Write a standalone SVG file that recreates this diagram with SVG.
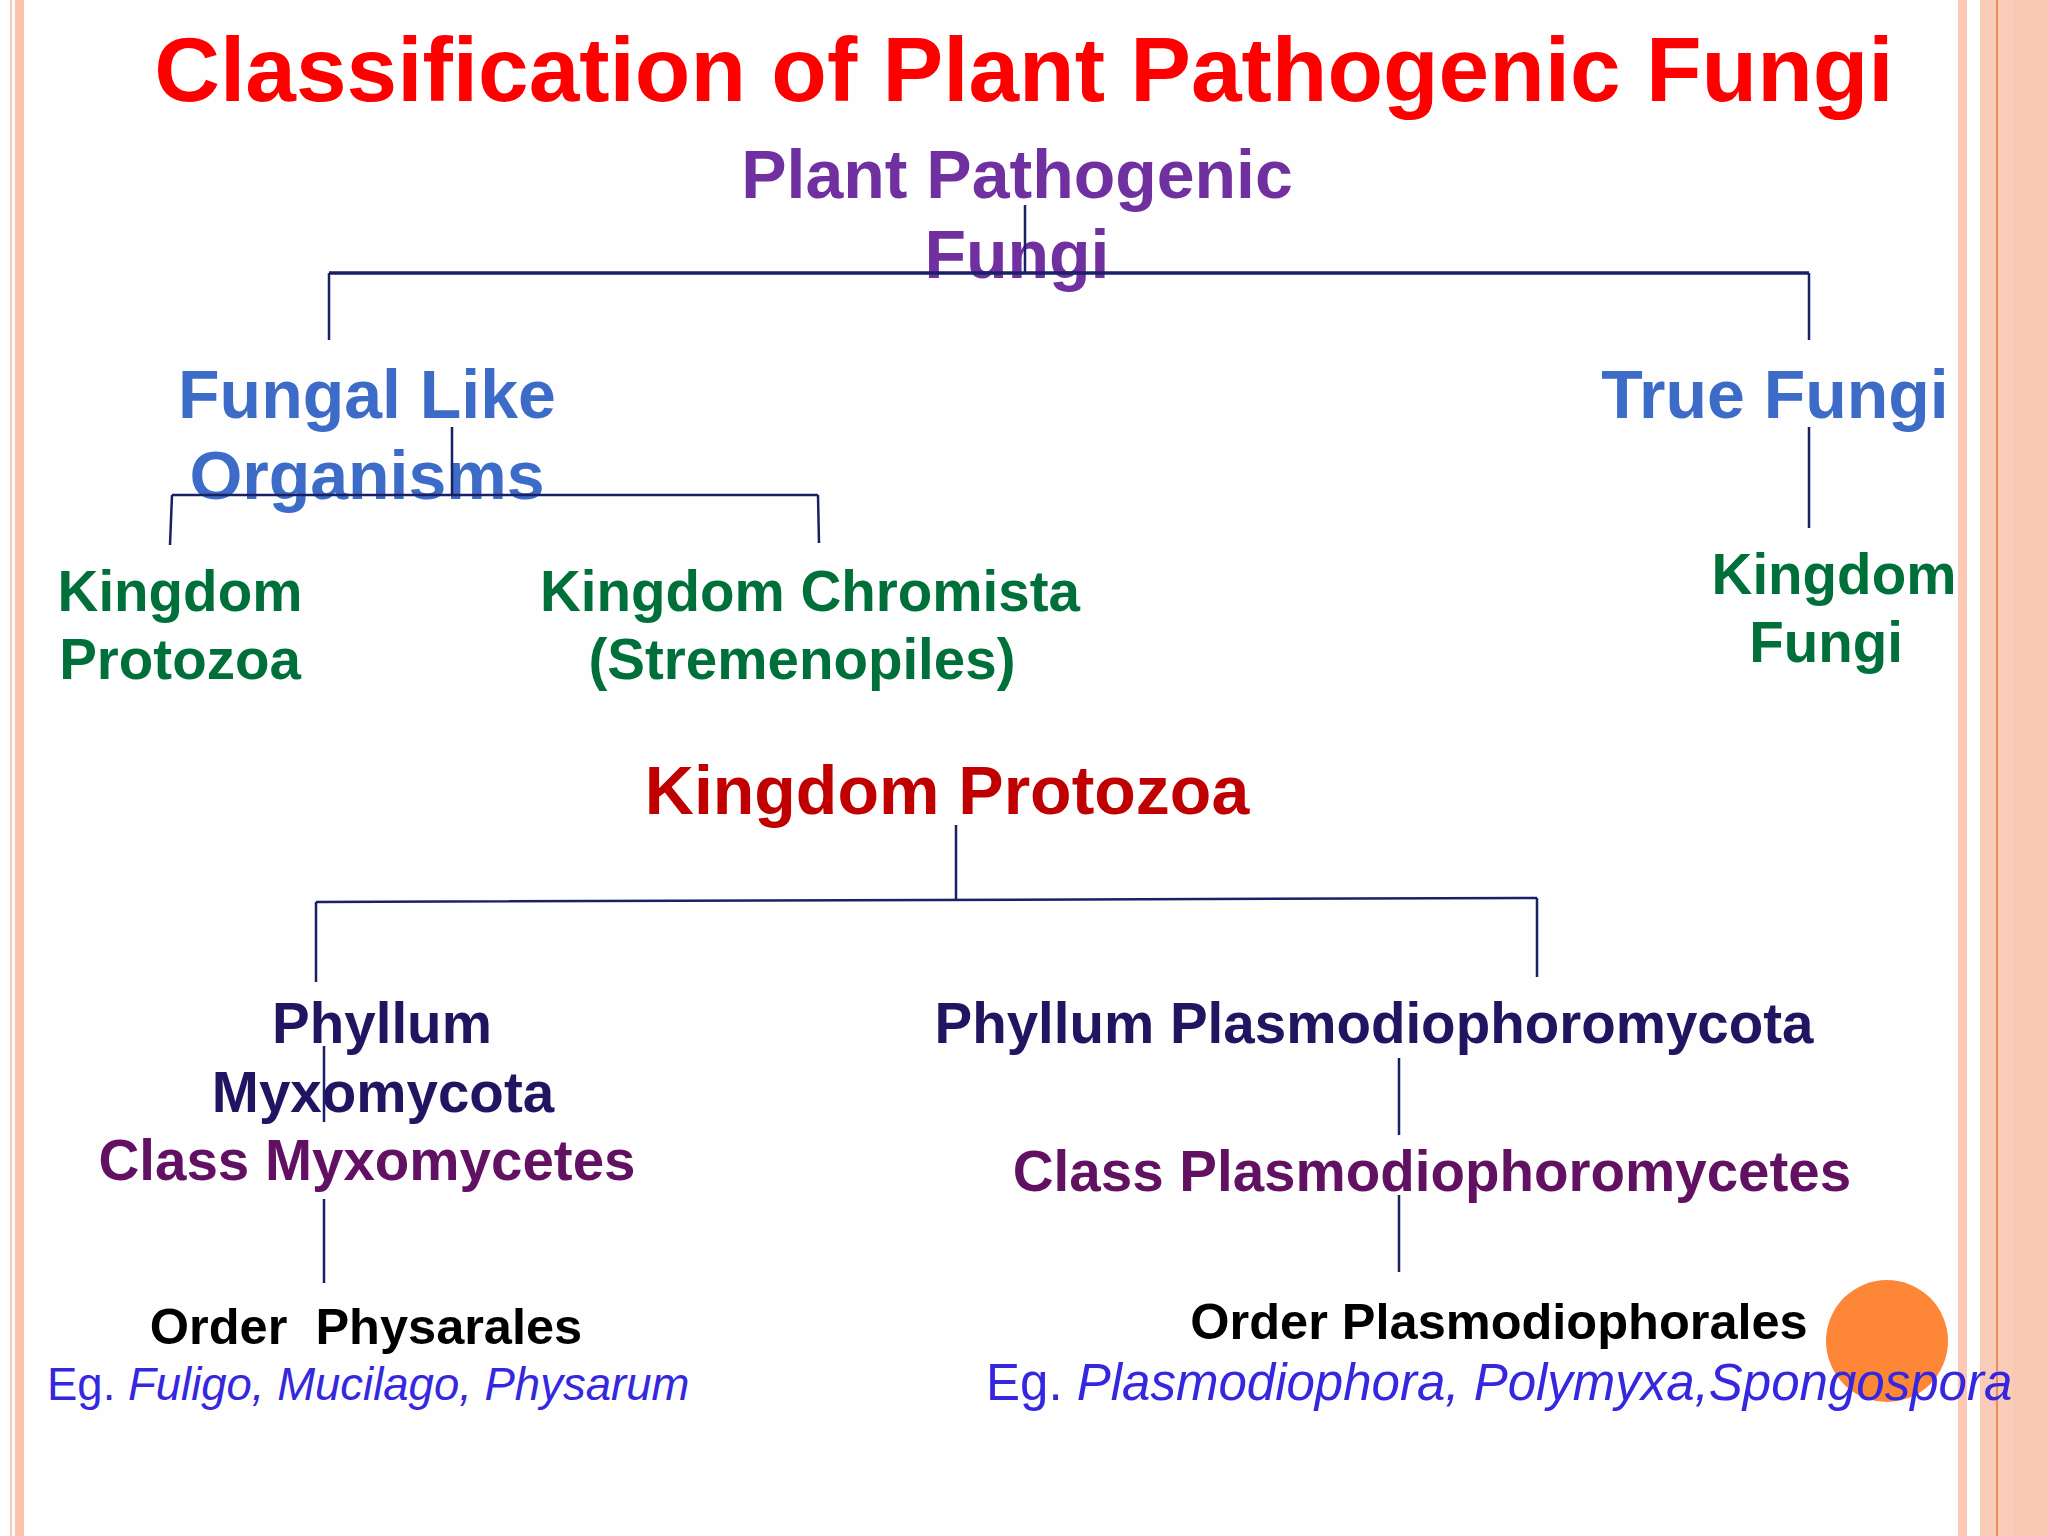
<svg xmlns="http://www.w3.org/2000/svg" width="2048" height="1536" viewBox="0 0 2048 1536">
<style>
text{font-family:"Liberation Sans",Arial,sans-serif;font-weight:bold;text-anchor:middle}
.t{font-size:91px;fill:#ff0000}
.root{font-size:68px;fill:#7030a0}
.l1{font-size:68px;fill:#3d6cc8}
.king{font-size:56.5px;fill:#00703a}
.kp{font-size:68px;fill:#c00000}
.phy{font-size:56.5px;fill:#1f1560}
.cls{font-size:56.5px;fill:#621062}
.ord{font-size:50.5px;fill:#000000}
.eg{font-weight:normal;text-anchor:start;fill:#3527e0}
.conn path{fill:none;stroke:#1a1f66;stroke-width:2.5}
</style>
<rect width="2048" height="1536" fill="#fefefe"/>
<g id="border">
<rect x="10" y="0" width="2" height="1536" fill="#f9cbb8"/>
<rect x="15" y="0" width="9" height="1536" fill="#fbc3ab"/>
<rect x="1958" y="0" width="9" height="1536" fill="#fbc9b4"/>
<rect x="1980" y="0" width="68" height="1536" fill="#f9ccb8"/>
<rect x="2013" y="0" width="35" height="1536" fill="#f8c8b2"/>
<rect x="1996" y="0" width="2" height="1536" fill="#f08a5e"/>
</g>
<circle id="dot" cx="1887" cy="1341" r="61" fill="#fd8637"/>
<text id="title" class="t" x="1024" y="101">Classification of Plant Pathogenic Fungi</text>
<g id="n-root"><text class="root" x="1017" y="198">Plant Pathogenic</text><text class="root" x="1017" y="278">Fungi</text></g>
<g id="n-fungal-like"><text class="l1" x="367" y="418">Fungal Like</text><text class="l1" x="367" y="499">Organisms</text></g>
<g id="n-true-fungi"><text class="l1" x="1775" y="418">True Fungi</text></g>
<g id="n-k-protozoa"><text class="king" x="180" y="611">Kingdom</text><text class="king" x="180" y="679">Protozoa</text></g>
<g id="n-k-chromista"><text class="king" x="810" y="611">Kingdom Chromista</text><text class="king" x="802" y="679">(Stremenopiles)</text></g>
<g id="n-k-fungi"><text class="king" x="1834" y="594">Kingdom</text><text class="king" x="1826" y="662">Fungi</text></g>
<g id="n-kingdom-protozoa"><text class="kp" x="947" y="814">Kingdom Protozoa</text></g>
<g id="n-myxomycota"><text class="phy" x="382" y="1043">Phyllum</text><text class="phy" x="383" y="1112">Myxomycota</text></g>
<g id="n-myxomycetes"><text class="cls" x="367" y="1180">Class Myxomycetes</text></g>
<g id="n-physarales"><text class="ord" x="366" y="1344" xml:space="preserve">Order  Physarales</text>
<text class="eg" x="47" y="1400" style="font-size:45.5px">Eg. <tspan font-style="italic">Fuligo, Mucilago, Physarum</tspan></text></g>
<g id="n-plasmodiophoromycota"><text class="phy" x="1374" y="1043">Phyllum Plasmodiophoromycota</text></g>
<g id="n-plasmodiophoromycetes"><text class="cls" x="1432" y="1191">Class Plasmodiophoromycetes</text></g>
<g id="n-plasmodiophorales"><text class="ord" x="1499" y="1339">Order Plasmodiophorales</text>
<text class="eg" x="986" y="1400" style="font-size:51px">Eg. <tspan font-style="italic">Plasmodiophora, Polymyxa,Spongospora</tspan></text></g>
<g id="connectors" class="conn">
<path d="M1025 205V273"/>
<path d="M329 273H1809" style="stroke-width:3.5"/>
<path d="M329 273V340M1809 273V340"/>
<path d="M452 427V495M172 495H818M172 495L170 545M818 495L819 543"/>
<path d="M1809 427V528"/>
<path d="M956 825V900M316 902L1537 898M316 902V982M1537 898V977"/>
<path d="M324 1046V1122M324 1199V1283"/>
<path d="M1399 1058V1135M1399 1195V1272"/>
</g>
</svg>
